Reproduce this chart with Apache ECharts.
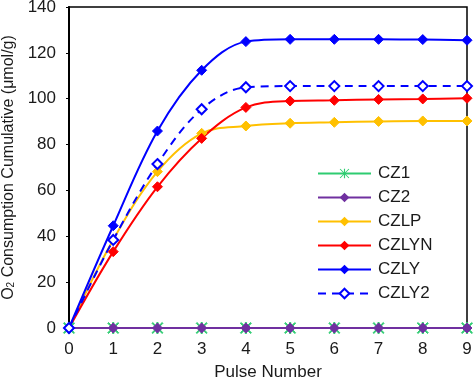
<!DOCTYPE html>
<html><head><meta charset="utf-8">
<script src="https://cdn.jsdelivr.net/npm/echarts@6/dist/echarts.min.js"></script>
<style>html,body{margin:0;padding:0;background:#fff}#c{width:474px;height:380px}</style>
</head><body><div id="c"></div>
<script>
const pulses = [0,1,2,3,4,5,6,7,8,9];
const CZ1 = [0,0,0,0,0,0,0,0,0,0];
const CZ2 = [0,0,0,0,0,0,0,0,0,0];
const CZLP = [0,38.5,68.2,84.9,88.1,89.3,89.7,90.1,90.3,90.3];
const CZLYN = [0,33.3,61.6,82.7,96.2,99.0,99.3,99.7,99.9,100.2];
const CZLY = [0,44.6,85.9,112.4,124.9,125.9,125.9,125.9,125.8,125.5];
const CZLY2 = [0,38.4,71.5,95.4,105.0,105.5,105.5,105.5,105.5,105.5];
const yTicks = [0,20,40,60,80,100,120,140];

const font = 'Liberation Sans, Arial, sans-serif';
const txt = '#1a1a1a';
const asterisk = 'path://M-0.6,-5 L0.6,-5 L0.6,5 L-0.6,5 Z M-5,-4.3 L-4.3,-5 L5,4.3 L4.3,5 Z M4.3,-5 L5,-4.3 L-4.3,5 L-5,4.3 Z';
const pair = arr => pulses.map((p,i)=>[p,arr[i]]);

function ser(name, data, color, symbol, opts) {
  return Object.assign({
    name, type:'line', data: pair(data), smooth: 0.35,
    symbol, symbolSize: 10, showSymbol: true,
    lineStyle:{color, width:2},
    itemStyle:{color, borderColor: color},
    animation:false
  }, opts||{});
}

const chart = echarts.init(document.getElementById('c'));
chart.setOption({
  animation:false,
  grid:{left:69, right:7, top:7, bottom:52, show:true, borderColor:'#000', borderWidth:1.5,
    outerBoundsMode:'none', containLabel:false},
  xAxis:{type:'value', min:0, max:9, interval:1,
    name:'Pulse Number', nameLocation:'middle', nameGap:36,
    nameTextStyle:{fontFamily:font, fontSize:17, color:txt},
    axisLine:{show:true, onZero:false, lineStyle:{color:'#000', width:1.5}},
    axisTick:{show:false},
    axisLabel:{fontFamily:font, fontSize:17, color:txt, margin:13},
    splitLine:{show:false}},
  yAxis:{type:'value', min:0, max:140, interval:20,
    name:'O{sub|2} Consumption Cumulative (μmol/g)', nameLocation:'middle', nameGap:46,
    nameTextStyle:{fontFamily:font, fontSize:16, color:txt,
      rich:{sub:{fontFamily:font, fontSize:10, color:txt, verticalAlign:'bottom', padding:[6,0,0,0]}}},
    axisLine:{show:true, lineStyle:{color:'#000', width:2}},
    axisTick:{show:true, inside:false, length:3, lineStyle:{color:'#000'}},
    axisLabel:{fontFamily:font, fontSize:17, color:txt, margin:13,
      formatter: v => yTicks.includes(v) ? String(v) : ''},
    splitLine:{show:false}},
  legend:{left:317, top:165, padding:0, orient:'vertical', itemWidth:53, itemHeight:12, itemGap:7,
    textStyle:{fontFamily:font, fontSize:17, color:txt, padding:[0,0,0,2]},
    data:['CZ1','CZ2','CZLP','CZLYN','CZLY','CZLY2']},
  series:[
    ser('CZ1', CZ1, '#2ecc71', asterisk, {symbolSize:11}),
    ser('CZ2', CZ2, '#7030a0', 'diamond'),
    ser('CZLP', CZLP, '#ffc000', 'diamond'),
    ser('CZLYN', CZLYN, '#ff0000', 'diamond'),
    ser('CZLY', CZLY, '#0000ff', 'diamond'),
    ser('CZLY2', CZLY2, '#0000ff', 'emptyDiamond', {
      lineStyle:{color:'#0000ff', width:2, type:[8,6]},
      itemStyle:{color:'#0000ff', borderColor:'#0000ff', borderWidth:1.5}})
  ]
});
</script></body></html>
